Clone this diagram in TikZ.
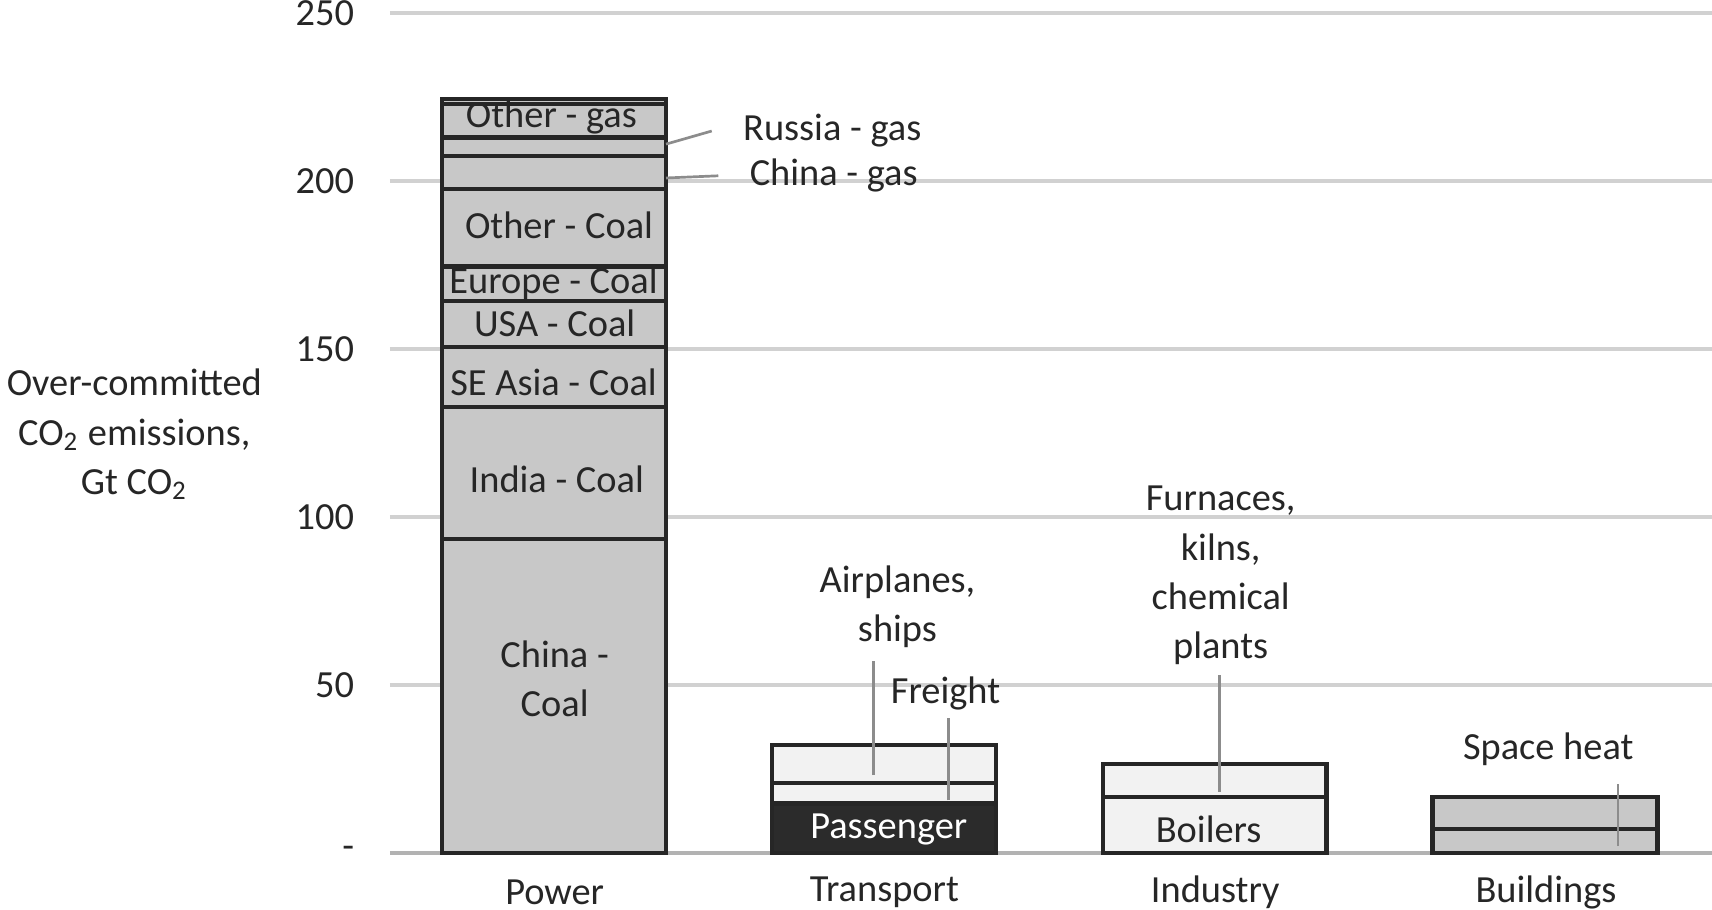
\documentclass[tikz,border=0pt]{standalone}
\usepackage{fontspec}
\setmainfont{Carlito}
\begin{document}
\begin{tikzpicture}[x=0.01cm,y=-0.01cm,
  seg/.style={draw=black!85,line width=1.1pt},
  lbl/.style={font=\fontsize{10pt}{12.8pt}\selectfont,text=black!85,inner sep=0},
  lead/.style={draw=black!45,line width=0.7pt},
  grid/.style={draw=black!18,line width=1pt}]
\useasboundingbox (0,0) rectangle (1568,833);
\definecolor{pg}{HTML}{C8C8C8}\definecolor{lg}{HTML}{F2F2F2}\definecolor{dk}{HTML}{2B2B2B}
% grid
\foreach \v/\t in {0/-,50/50,100/100,150/150,200/200,250/250}{
  \pgfmathsetmacro\yy{781-3.076*\v}
  \ifnum\v=0 \draw[draw=black!30,line width=1pt] (357,\yy) -- (1568,\yy);
  \else \draw[grid] (357,\yy) -- (1568,\yy); \fi
  \node[lbl,anchor=east] (t\v) at (325,\yy) {\t};}
% y label
\node[lbl,align=center] (ylab) at (123,398) {Over-committed\\CO\textsubscript{2} emissions,\\Gt CO\textsubscript{2}};
% Power
\foreach \a/\b in {781/494,494/373,373/318,318/276,276/244,244/173,173/143,143/126,126/95,95/91}
  \draw[seg,fill=pg] (405,\a) rectangle (610,\b);
\node[lbl,align=center] (pc) at (508,622) {China -\\Coal};
\node[lbl] (pi) at (510,439) {India - Coal};
\node[lbl] (ps) at (507,350) {SE Asia - Coal};
\node[lbl] (pu) at (508,296) {USA - Coal};
\node[lbl] (pe) at (507,259) {Europe - Coal};
\node[lbl] (po) at (512,206) {Other - Coal};
\node[lbl] (pg) at (505,108) {Other - gas};
\coordinate (rg) at (610,132); \coordinate (cg) at (610,163);
\node[lbl,anchor=west] (rus) at (680,120) {Russia - gas};
\node[lbl,anchor=west] (chi) at (686,161) {China - gas};
\draw[lead] (rg) -- ([xshift=-8pt]rus.west);
\draw[lead] (cg) -- ([xshift=-8pt]chi.west);
% Transport
\draw[seg,fill=dk] (707,781) rectangle (912,736);
\draw[seg,fill=lg] (707,736) rectangle (912,717);
\draw[seg,fill=lg] (707,717) rectangle (912,682);
\node[lbl,text=white] (pas) at (814,760) {Passenger};
\node[lbl,align=center] (air) at (822,556) {Airplanes,\\ships};
\node[lbl] (fr) at (866,635) {Freight};
\coordinate (a1) at (800,710); \coordinate (a2) at (800,605);
\coordinate (f1) at (869,733); \coordinate (f2) at (869,658);
\draw[lead] (a1) -- (a2); \draw[lead] (f1) -- (f2);
% Industry
\draw[seg,fill=lg] (1010,781) rectangle (1215,730);
\draw[seg,fill=lg] (1010,730) rectangle (1215,700);
\node[lbl] (boi) at (1107,760) {Boilers};
\node[lbl,align=center] (fur) at (1118,527) {Furnaces,\\kilns,\\chemical\\plants};
\coordinate (i1) at (1117,725); \coordinate (i2) at (1117,618);
\draw[lead] (i1) -- (i2);
% Buildings
\draw[seg,fill=pg] (1312,781) rectangle (1518,759);
\draw[seg,fill=pg] (1312,759) rectangle (1518,730);
\node[lbl] (sh) at (1418,686) {Space heat};
\coordinate (b1) at (1482,775); \coordinate (b2) at (1482,718);
\draw[lead] (b1) -- (b2);
% categories
\node[lbl] (c1) at (508,817) {Power};
\node[lbl] (c2) at (810,817) {Transport};
\node[lbl] (c3) at (1113,817) {Industry};
\node[lbl] (c4) at (1416,817) {Buildings};
\end{tikzpicture}
\end{document}
